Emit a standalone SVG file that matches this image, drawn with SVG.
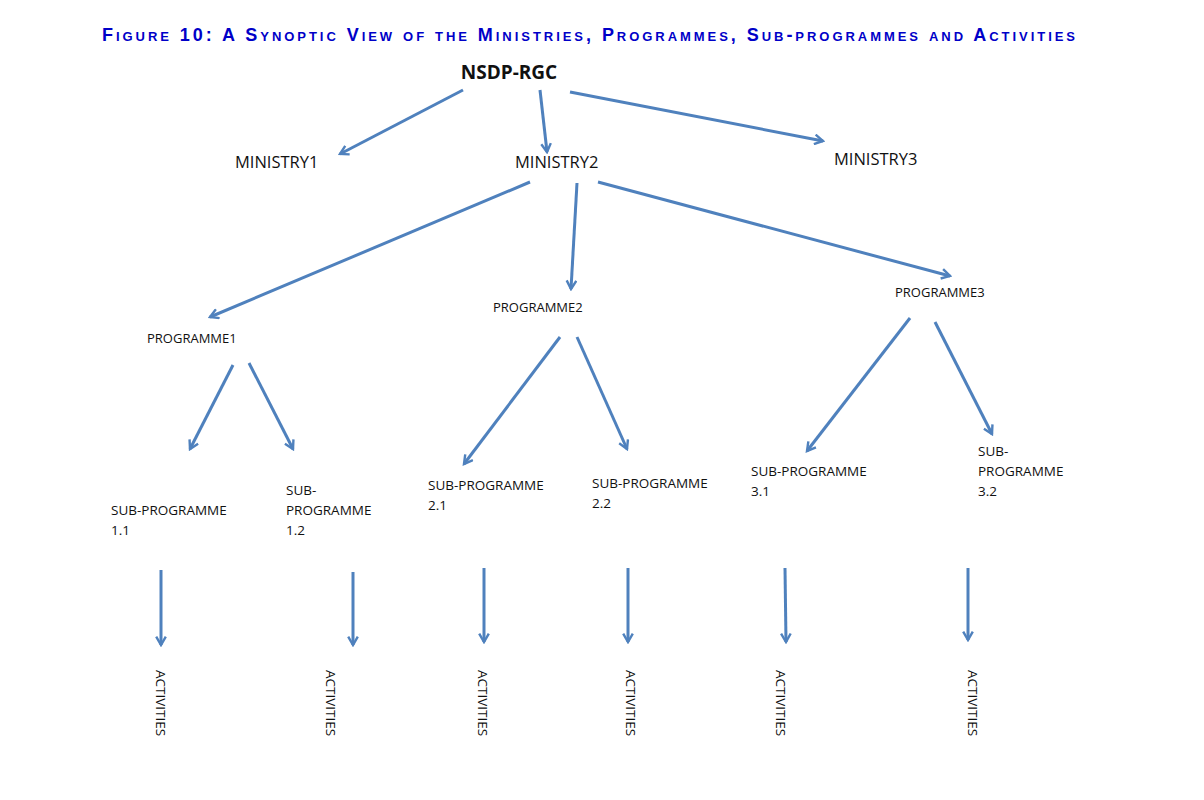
<svg xmlns="http://www.w3.org/2000/svg" width="1204" height="800" viewBox="0 0 1204 800">
<style>
.t{font-family:"Open Sans","Liberation Sans",sans-serif;fill:#111}
.m{font-size:16.5px}.p{font-size:13px}.s{font-size:13.5px}
.c line{stroke:#4F81BD;stroke-width:3;marker-end:url(#a)}
</style>
<defs><marker id="a" viewBox="0 0 10 10" refX="8" refY="5" markerWidth="4" markerHeight="4" orient="auto" markerUnits="strokeWidth"><path d="M1,1 L8,5 L1,9" fill="none" stroke="#4F81BD" stroke-width="2"/></marker></defs>
<rect width="1204" height="800" fill="#fff"/>
<text x="102" y="41" textLength="973" font-family="Liberation Sans,Arial,sans-serif" font-weight="bold" font-size="18" fill="#0000C8" style="font-variant:small-caps">Figure 10: A Synoptic View of the Ministries, Programmes, Sub-programmes and Activities</text>
<g class="c">
<line x1="463" y1="90" x2="340" y2="154"/>
<line x1="540" y1="90" x2="547" y2="152"/>
<line x1="570" y1="92" x2="823" y2="141"/>
<line x1="530" y1="182" x2="210" y2="317"/>
<line x1="577" y1="183" x2="571" y2="289"/>
<line x1="598" y1="182" x2="950" y2="276"/>
<line x1="233" y1="365" x2="190" y2="449"/>
<line x1="249" y1="363" x2="293" y2="449"/>
<line x1="560" y1="337" x2="464" y2="464"/>
<line x1="577" y1="337" x2="627" y2="449"/>
<line x1="910" y1="318" x2="807" y2="451"/>
<line x1="935" y1="322" x2="992" y2="434"/>
<line x1="161" y1="570" x2="161" y2="645"/>
<line x1="353" y1="572" x2="353" y2="645"/>
<line x1="484" y1="568" x2="484" y2="642"/>
<line x1="628" y1="568" x2="628" y2="642"/>
<line x1="785" y1="568" x2="786" y2="642"/>
<line x1="968" y1="568" x2="968" y2="640"/>
</g>
<g id="nsdp"><text class="t" x="509" y="79" text-anchor="middle" font-size="19" font-weight="bold">NSDP-RGC</text></g>
<g id="m1"><text class="t m" x="235" y="168">MINISTRY1</text></g>
<g id="m2"><text class="t m" x="515" y="168">MINISTRY2</text></g>
<g id="m3"><text class="t m" x="834" y="165">MINISTRY3</text></g>
<g id="p1"><text class="t p" x="147" y="343">PROGRAMME1</text></g>
<g id="p2"><text class="t p" x="493" y="312">PROGRAMME2</text></g>
<g id="p3"><text class="t p" x="895" y="297">PROGRAMME3</text></g>
<g id="s11"><text class="t s" x="111" y="515">SUB-PROGRAMME<tspan x="111" y="535">1.1</tspan></text></g>
<g id="s12"><text class="t s" x="286" y="495">SUB-<tspan x="286" y="515">PROGRAMME</tspan><tspan x="286" y="535">1.2</tspan></text></g>
<g id="s21"><text class="t s" x="428" y="490">SUB-PROGRAMME<tspan x="428" y="510">2.1</tspan></text></g>
<g id="s22"><text class="t s" x="592" y="488">SUB-PROGRAMME<tspan x="592" y="508">2.2</tspan></text></g>
<g id="s31"><text class="t s" x="751" y="476">SUB-PROGRAMME<tspan x="751" y="496">3.1</tspan></text></g>
<g id="s32"><text class="t s" x="978" y="456">SUB-<tspan x="978" y="476">PROGRAMME</tspan><tspan x="978" y="496">3.2</tspan></text></g>
<g id="acts">
<text class="t s" transform="translate(156,670) rotate(90)">ACTIVITIES</text>
<text class="t s" transform="translate(326,670) rotate(90)">ACTIVITIES</text>
<text class="t s" transform="translate(478,670) rotate(90)">ACTIVITIES</text>
<text class="t s" transform="translate(626,670) rotate(90)">ACTIVITIES</text>
<text class="t s" transform="translate(776,670) rotate(90)">ACTIVITIES</text>
<text class="t s" transform="translate(968,670) rotate(90)">ACTIVITIES</text>
</g>
</svg>
